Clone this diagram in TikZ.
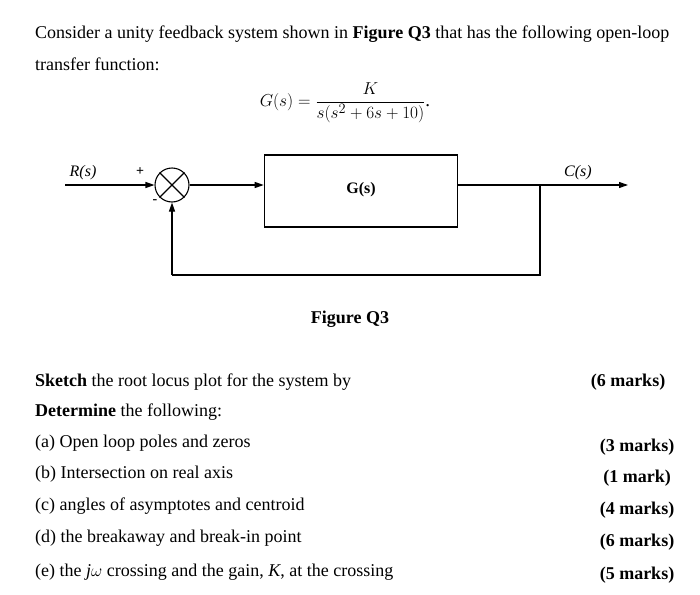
\documentclass[tikz,border=0pt]{standalone}
\usepackage{amsmath}
\usepackage{fontspec}
\setmainfont{Liberation Serif}
\usetikzlibrary{arrows.meta}
\begin{document}
\begin{tikzpicture}[x=1pt,y=-1pt,
  txt/.style={anchor=base west,inner sep=0pt,font=\fontsize{18}{20}\selectfont},
  mk/.style={anchor=base,inner sep=0pt,font=\bfseries\fontsize{18}{20}\selectfont},
  lbl/.style={inner sep=0pt,font=\itshape\fontsize{16}{18}\selectfont},
  sig/.style={line width=1.1pt,-{Triangle[length=9pt,width=6pt]}},
  ln/.style={line width=1.1pt}]
\useasboundingbox (0,0) rectangle (700,594);
\node[txt] (t1) at (35,38) {Consider a unity feedback system shown in \textbf{Figure Q3} that has the following open-loop};
\node[txt] (t2) at (35,70) {transfer function:};
\node (eq) at (345,103) {\fontsize{19}{21}\selectfont$G(s)=\dfrac{K}{s(s^2+6s+10)}$.};
% block diagram
\coordinate (in) at (65,185);
\node[draw,circle,line width=1.1pt,minimum size=34pt,inner sep=0pt] (sum) at (172,185) {};
\draw[line width=1.1pt] (sum.north west) -- (sum.south east) (sum.north east) -- (sum.south west);
\node[draw,line width=1.6pt,minimum width=193pt,minimum height=72pt,inner sep=0pt] (G) at (361,191) {};
\node[inner sep=0pt,font=\bfseries\fontsize{16}{18}\selectfont] (Gl) at (361,190) {G(s)};
\node[lbl] (R) at (83,173) {R(s)};
\node[lbl] (C) at (578,173) {C(s)};
\node[inner sep=0pt,font=\bfseries\fontsize{14}{16}\selectfont] (plus) at (140,172) {+};
\node[inner sep=0pt,font=\bfseries\fontsize{14}{16}\selectfont] (minus) at (155,202) {-};
\coordinate (out) at (628,185);
\coordinate (br) at (540,185);
\coordinate (b1) at (540,275);
\coordinate (b2) at (172,275);
\draw[sig] (in) -- (sum.west);
\draw[sig] (sum.east) -- (G.west |- sum.east);
\draw[sig] (G.east |- out) -- (out);
\draw[ln] (br) -- (b1) -- (b2);
\draw[sig] (b2) -- (sum.south);
\node[anchor=base,inner sep=0pt,font=\bfseries\fontsize{18}{20}\selectfont] (fig) at (350,323) {Figure Q3};
% questions
\node[txt] (q1) at (35,386) {\textbf{Sketch} the root locus plot for the system by};
\node[txt] (q2) at (35,416) {\textbf{Determine} the following:};
\node[txt] (qa) at (35,447) {(a) Open loop poles and zeros};
\node[txt] (qb) at (35,478) {(b) Intersection on real axis};
\node[txt] (qc) at (35,510) {(c) angles of asymptotes and centroid};
\node[txt] (qd) at (35,542) {(d) the breakaway and break-in point};
\node[txt] (qe) at (35,576) {(e) the \textit{j$\omega$} crossing and the gain, \textit{K}, at the crossing};
\node[mk] (m1) at (628,386) {(6 marks)};
\node[mk] (ma) at (637,451) {(3 marks)};
\node[mk] (mb) at (637,482) {(1 mark)};
\node[mk] (mc) at (637,514) {(4 marks)};
\node[mk] (md) at (637,546) {(6 marks)};
\node[mk] (me) at (637,579) {(5 marks)};
\end{tikzpicture}
\end{document}
